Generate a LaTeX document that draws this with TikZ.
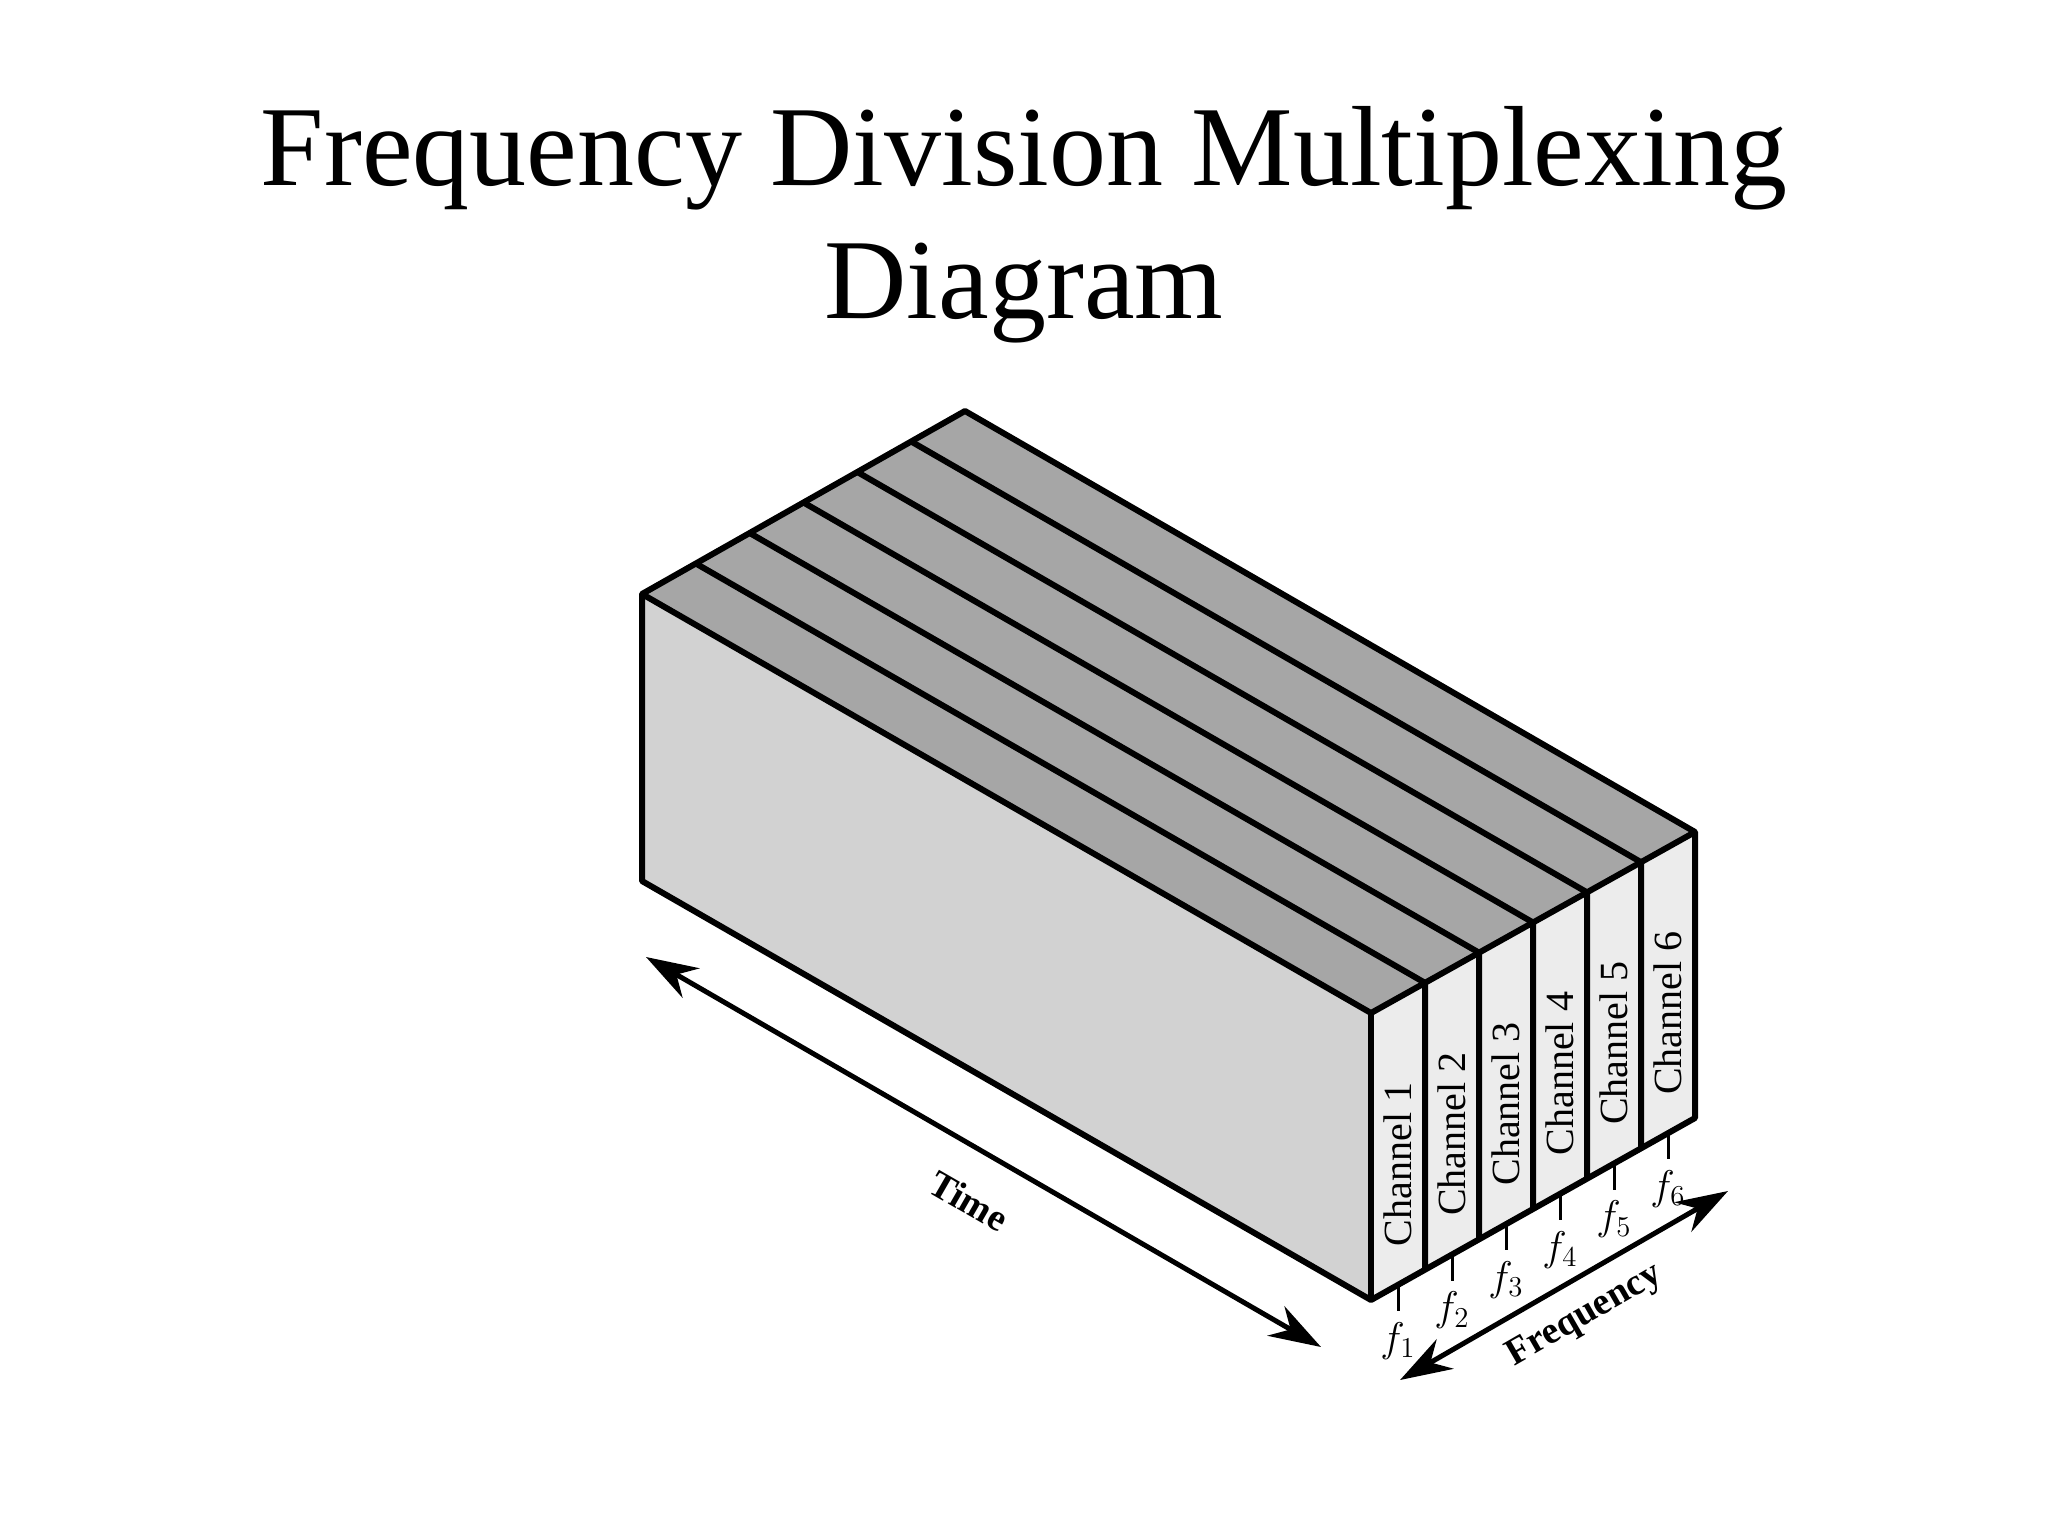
\documentclass[tikz,border=0pt]{standalone}
\usepackage{fontspec}
\setmainfont{Liberation Serif}
\usetikzlibrary{arrows.meta,calc}
\begin{document}
\begin{tikzpicture}[x=0.5pt,y=-0.5pt,
  edge/.style={line width=3pt,line join=round},
  chlab/.style={rotate=90,font=\fontsize{20}{20}\selectfont,inner sep=0pt},
  axlab/.style={font=\bfseries\fontsize{19}{19}\selectfont,inner sep=1pt},
  dbl/.style={line width=2.5pt,{Stealth[length=26pt,width=17pt]}-{Stealth[length=26pt,width=17pt]}}]
\useasboundingbox (0,0) rectangle (2048,1536);
\node (t1) at (1024,158) {\fontsize{57}{57}\selectfont Frequency Division Multiplexing};
\node (t2) at (1024,293) {\fontsize{57}{57}\selectfont Diagram};
% corners
\coordinate (A) at (642,594);
\coordinate (B) at (642,881);
\coordinate (C) at (1371,1013);
\coordinate (D) at (1371,1300);
\coordinate (E) at (1695,832);
\coordinate (F) at (1695,1118);
\coordinate (G) at (965,411);
% faces
\fill[gray!35] (A) -- (C) -- (D) -- (B) -- cycle;
\fill[gray!70] (A) -- (G) -- (E) -- (C) -- cycle;
\fill[gray!15] (C) -- (E) -- (F) -- (D) -- cycle;
\foreach \k in {1,...,5}{
  \draw[edge] ($(A)!\k/6!(G)$) -- ($(C)!\k/6!(E)$) -- ($(D)!\k/6!(F)$);
}
\draw[edge] (A) -- (G) -- (E) -- (F) -- (D) -- (B) -- cycle;
\draw[edge] (A) -- (C) -- (E);
\draw[edge] (C) -- (D);
\foreach \k in {1,...,6}{
  \coordinate (b\k) at ($(D)!{(\k-0.5)/6}!(F)$);
  \coordinate (u\k) at ($(C)!{(\k-0.5)/6}!(E)$);
  \node[chlab] (ch\k) at ($(b\k)!0.42!(u\k)$) {Channel \k};
  \coordinate (tk\k) at ($(b\k)+(0,26)$);
  \draw[line width=1.5pt] (b\k) -- (tk\k);
  \node[inner sep=1pt] (fl\k) at ($(tk\k)+(0,30)$) {\fontsize{22}{22}\selectfont$f_{\k}$};
}
% axes
\coordinate (ta) at (646,957);
\coordinate (tb) at (1321,1347);
\draw[dbl] (ta) -- (tb);
\node[axlab,rotate=-30] (time) at (969,1201) {Time};
\coordinate (fa) at (1400,1380);
\coordinate (fb) at (1728,1191);
\draw[dbl] (fa) -- (fb);
\node[axlab,rotate=30] (freq) at (1585,1316) {Frequency};
\end{tikzpicture}
\end{document}
